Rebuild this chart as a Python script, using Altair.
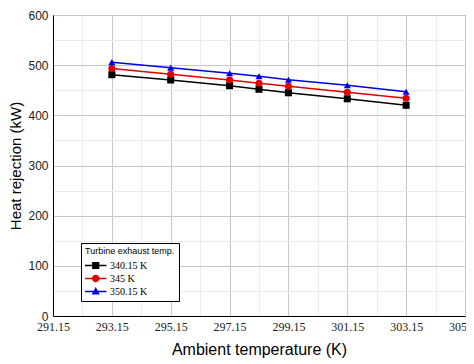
import altair as alt
import pandas as pd

ambient = [293.15, 295.15, 297.15, 298.15, 299.15, 301.15, 303.15]
series_names = ["340.15 K", "345 K", "350.15 K"]
heat_340 = [481, 470.5, 459, 452, 445, 433, 420]
heat_345 = [493.5, 482, 470.5, 464, 458, 446, 434]
heat_350 = [506, 495, 484, 478, 471, 460, 447]

x_ticks = [291.15 + i for i in range(15)]
y_ticks = [i * 50 for i in range(13)]

rows = []
for name, vals in zip(series_names, [heat_340, heat_345, heat_350]):
    for a, v in zip(ambient, vals):
        rows.append({"ambient": a, "heat": v, "series": name})
df = pd.DataFrame(rows)

# legend glyphs: a short line with the marker on it (unit = half of sqrt(symbolSize))
bar = "M-1,-0.11H2.3V0.11H-1Z "
sq_path = bar + "M0.1,-0.55H1.2V0.55H0.1Z"
ci_path = bar + "M1.22,0A0.57,0.57 0 1,1 0.08,0A0.57,0.57 0 1,1 1.22,0Z"
tr_path = bar + "M0.65,-0.68L1.27,0.48L0.03,0.48Z"

legend_title = "Turbine exhaust temp."
colors = ["#000000", "#e00000", "#0000e0"]

x = alt.X(
    "ambient:Q",
    scale=alt.Scale(domain=[291.15, 305.15], nice=False, zero=False),
    axis=alt.Axis(
        title="Ambient temperature (\u212a)",
        values=x_ticks,
        format=".2f",
        labelExpr="round(datum.value - 291.15) % 2 === 0 ? datum.label : ''",
        labelFont="Liberation Serif",
        labelFontSize=12,
        labelColor="#222",
        titleFont="Liberation Sans",
        titleFontSize=16,
        titleFontWeight="normal",
        titleColor="#000",
        titlePadding=9,
        domainColor="#000",
        ticks=False,
        gridColor={"condition": {"test": "round(datum.value - 291.15) % 2 === 0", "value": "#c8c8c8"}, "value": "#ebebeb"},
        labelFlush=False,
        labelPadding=5,
    ),
)
y = alt.Y(
    "heat:Q",
    scale=alt.Scale(domain=[0, 600], nice=False),
    axis=alt.Axis(
        title="Heat rejection (kW)",
        values=y_ticks,
        labelExpr="datum.value % 100 === 0 ? datum.label : ''",
        labelFont="Liberation Sans",
        labelFontSize=12,
        labelColor="#222",
        titleFont="Liberation Sans",
        titleFontSize=15,
        titleFontWeight="normal",
        titleColor="#000",
        titlePadding=4,
        domainColor="#000",
        ticks=False,
        labelPadding=5,
        gridColor={"condition": {"test": "datum.value % 100 === 0", "value": "#c8c8c8"}, "value": "#ebebeb"},
    ),
)

color_plain = alt.Color("series:N", scale=alt.Scale(domain=series_names, range=colors), legend=None)

lines = alt.Chart(df).mark_line(strokeWidth=1.5).encode(x=x, y=y, color=color_plain, detail="series:N")
points = alt.Chart(df).mark_point(filled=True, size=50, opacity=1).encode(
    x=x,
    y=y,
    color=color_plain,
    shape=alt.Shape(
        "series:N",
        scale=alt.Scale(domain=series_names, range=["square", "circle", "triangle-up"]),
        legend=None,
    ),
)

legend_props = dict(
    title=legend_title,
    orient="none",
    legendX=28,
    legendY=228,
    fillColor="white",
    strokeColor="#000000",
    padding=4,
    titleFont="Liberation Sans",
    titleFontSize=9,
    titleFontWeight="normal",
    titleColor="#000",
    labelFont="Liberation Serif",
    labelFontSize=10,
    labelColor="#000",
    labelOffset=12,
    rowPadding=1,
    symbolSize=169,
    symbolStrokeWidth=0,
    symbolOpacity=1,
    titlePadding=3,
)
legend_layer = alt.Chart(df).mark_point(filled=True, size=1).encode(
    x=x,
    y=y,
    opacity=alt.value(0),
    color=alt.Color(
        "series:N",
        scale=alt.Scale(domain=series_names, range=colors),
        legend=alt.Legend(**legend_props),
    ),
    shape=alt.Shape(
        "series:N",
        scale=alt.Scale(domain=series_names, range=[sq_path, ci_path, tr_path]),
        legend=alt.Legend(**legend_props),
    ),
)

chart = (
    alt.layer(lines, points, legend_layer)
    .resolve_scale(color="independent", shape="independent")
    .properties(
        width=412,
        height=301,
        autosize=alt.AutoSizeParams(type="none"),
        padding={"left": 45, "top": 7, "right": 1, "bottom": 48},
    )
    .configure_view(stroke="#000", strokeWidth=1)
)
chart.save("out.html", embed_options={"renderer": "svg", "actions": False})
